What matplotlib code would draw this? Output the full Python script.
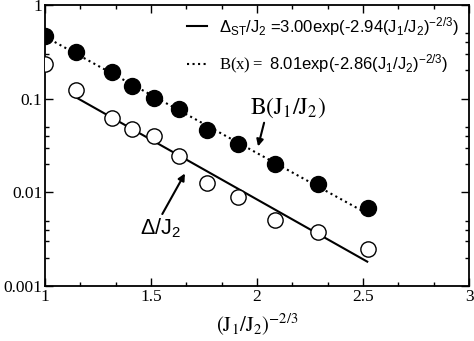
import matplotlib
matplotlib.use("Agg")
import matplotlib.pyplot as plt
from matplotlib.ticker import MultipleLocator, LogLocator, FixedLocator, FixedFormatter, NullFormatter
from matplotlib.font_manager import FontProperties

plt.rcParams['mathtext.fontset'] = 'custom'
plt.rcParams['mathtext.rm'] = 'Liberation Sans'
plt.rcParams['mathtext.it'] = 'Liberation Sans'
plt.rcParams['mathtext.tt'] = 'Liberation Serif'

# datos
x_vals = [1.0, 1.145, 1.315, 1.41, 1.515, 1.63, 1.765, 1.91, 2.085, 2.29, 2.525]
b_vals = [0.468, 0.316, 0.194, 0.137, 0.1025, 0.0783, 0.0468, 0.0332, 0.0199, 0.0122, 0.00676]
gap_vals = [0.236, 0.125, 0.0625, 0.048, 0.0404, 0.0242, 0.0125, 0.00885, 0.00504, 0.00375, 0.00248]

# extremos de los ajustes (rectas en escala log)
fit_gap_x = [1.145, 2.52]
fit_gap_y = [0.1036, 0.00182]
fit_b_x = [1.0, 2.52]
fit_b_y = [0.459, 0.00593]

label_gap = r'$\Delta_{ST}/J_2$ =3.00exp(-2.94(J$_1$/J$_2$)$^{-2/3}$)'
label_b = r'$\mathtt{B(x)=}$ 8.01exp(-2.86(J$_1$/J$_2$)$^{-2/3}$)'

fig = plt.figure(figsize=(4.74, 3.41), dpi=100)
ax = fig.add_axes([45/474, 1-286/341, 424/474, 281/341])

ax.plot(fit_gap_x, fit_gap_y, '-', color='black', lw=1.5, label=label_gap)
ax.plot(fit_b_x, fit_b_y, ':', color='black', lw=1.5, label=label_b)
ax.plot(x_vals, b_vals, 'o', color='black', ms=11.5, zorder=3)
ax.plot(x_vals, gap_vals, 'o', mfc='white', mec='black', mew=1.0, ms=11, zorder=3)

ax.set_yscale('log')
ax.set_xlim(1, 3)
ax.set_ylim(0.001, 1)

ax.xaxis.set_major_locator(FixedLocator([1, 1.5, 2, 2.5, 3]))
ax.xaxis.set_major_formatter(FixedFormatter(['1', '1.5', '2', '2.5', '3']))
ax.xaxis.set_minor_locator(MultipleLocator(0.5/3))
ax.yaxis.set_major_locator(FixedLocator([0.001, 0.01, 0.1, 1]))
ax.yaxis.set_major_formatter(FixedFormatter(['0.001', '0.01', '0.1', '1']))
ax.yaxis.set_minor_locator(LogLocator(base=10, subs=[2, 3, 4, 5]))
ax.yaxis.set_minor_formatter(NullFormatter())

ax.tick_params(which='both', direction='in', top=True, right=True, width=1.0)
ax.tick_params(which='major', length=6, pad=2)
ax.tick_params(which='minor', length=3)
for lab in ax.get_xticklabels() + ax.get_yticklabels():
    lab.set_fontfamily('Liberation Serif')
    lab.set_fontsize(12.5)
for s in ax.spines.values():
    s.set_linewidth(1.3)

ax.set_xlabel(r'$\mathrm{(J_1/J_2)^{-2/3}}$', fontsize=15, math_fontfamily='stix', labelpad=5)

leg = ax.legend(loc='upper right', frameon=False, handlelength=1.2, handletextpad=0.7,
                labelspacing=0.9, borderaxespad=0.2,
                prop=FontProperties(family='Liberation Sans', size=12))

ax.annotate(r'$\mathrm{B(J_1/J_2)}$', xy=(2.005, 0.0309), xytext=(1.965, 0.080),
            fontsize=17, math_fontfamily='stix', va='center', ha='left',
            arrowprops=dict(arrowstyle='-|>', color='black', lw=1.5, mutation_scale=10,
                            shrinkA=0, shrinkB=0, relpos=(0.2, 0.0)))
ax.annotate(r'$\Delta/J_2$', xy=(1.66, 0.0159), xytext=(1.45, 0.0041),
            fontsize=15.5, va='center', ha='left',
            arrowprops=dict(arrowstyle='-|>', color='black', lw=1.5, mutation_scale=10,
                            shrinkA=0, shrinkB=0, relpos=(0.5, 1.0)))

fig.savefig('out.png', dpi=100)
